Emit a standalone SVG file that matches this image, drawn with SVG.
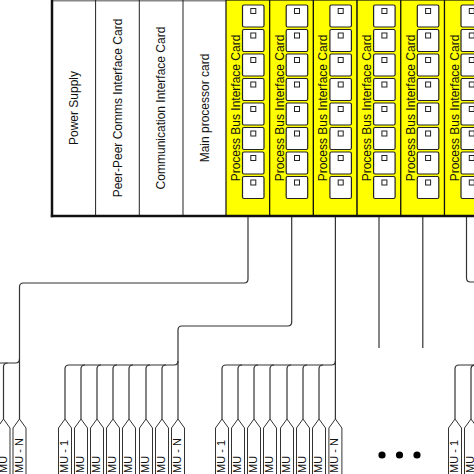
<svg xmlns="http://www.w3.org/2000/svg" width="474" height="474" viewBox="0 0 474 474">
<defs>
<style>
.t{font-family:"Liberation Sans",Arial,sans-serif;fill:#111;}
.rt{font-size:12px;text-anchor:middle;dominant-baseline:central;}
.mu{font-size:11px;}
.card{fill:#ffff00;stroke:#111;stroke-width:1.2;}
.port{fill:#fff;stroke:#222;stroke-width:1.2;}
.pin{fill:#fff;stroke:#222;stroke-width:1;}
.div{stroke:#222;stroke-width:1;}
.c{fill:none;stroke:#333;stroke-width:1.2;}
.tag{fill:#fff;stroke:#333;stroke-width:1;}
</style>
<g id="portset">
<rect class="port" x="16.5" y="5" width="21.5" height="22" rx="1.5"/><rect class="pin" x="24.8" y="8.5" width="5" height="5"/>
<rect class="port" x="16.5" y="29.5" width="21.5" height="22" rx="1.5"/><rect class="pin" x="24.8" y="33" width="5" height="5"/>
<rect class="port" x="16.5" y="54" width="21.5" height="22" rx="1.5"/><rect class="pin" x="24.8" y="57.5" width="5" height="5"/>
<rect class="port" x="16.5" y="78.5" width="21.5" height="22" rx="1.5"/><rect class="pin" x="24.8" y="82" width="5" height="5"/>
<rect class="port" x="16.5" y="103" width="21.5" height="22" rx="1.5"/><rect class="pin" x="24.8" y="106.5" width="5" height="5"/>
<rect class="port" x="16.5" y="127.5" width="21.5" height="22" rx="1.5"/><rect class="pin" x="24.8" y="131" width="5" height="5"/>
<rect class="port" x="16.5" y="152" width="21.5" height="22" rx="1.5"/><rect class="pin" x="24.8" y="155.5" width="5" height="5"/>
<rect class="port" x="16.5" y="176.5" width="21.5" height="22" rx="1.5"/><rect class="pin" x="24.8" y="180" width="5" height="5"/>
</g>
<polygon id="tagshape" class="tag" points="0,419 6.5,428 6.5,480 -6.5,480 -6.5,428"/>
</defs>
<rect width="474" height="474" fill="#fff"/>

<!-- rack -->
<g id="rack">
<line x1="52" y1="0.7" x2="474" y2="0.7" stroke="#888" stroke-width="1.5"/>
<line class="div" x1="95.6" y1="0" x2="95.6" y2="216"/>
<line class="div" x1="139.3" y1="0" x2="139.3" y2="216"/>
<line class="div" x1="183" y1="0" x2="183" y2="216"/>
</g>
<g id="power-supply"><text class="t rt" transform="translate(73.8,108) rotate(-90)">Power Supply</text></g>
<g id="peer-card"><text class="t rt" transform="translate(117.5,108) rotate(-90)">Peer-Peer Comms Interface Card</text></g>
<g id="comm-card"><text class="t rt" transform="translate(161.2,108) rotate(-90)">Communication Interface Card</text></g>
<g id="main-card"><text class="t rt" transform="translate(204.5,108) rotate(-90)">Main processor card</text></g>

<g id="pbic1" transform="translate(226,0)"><rect class="card" x="0" y="0" width="43.7" height="216"/><text class="t rt" transform="translate(10,108) rotate(-90)">Process Bus Interface Card</text><use href="#portset"/></g>
<g id="pbic2" transform="translate(269.7,0)"><rect class="card" x="0" y="0" width="43.7" height="216"/><text class="t rt" transform="translate(10,108) rotate(-90)">Process Bus Interface Card</text><use href="#portset"/></g>
<g id="pbic3" transform="translate(313.4,0)"><rect class="card" x="0" y="0" width="43.7" height="216"/><text class="t rt" transform="translate(10,108) rotate(-90)">Process Bus Interface Card</text><use href="#portset"/></g>
<g id="pbic4" transform="translate(357.1,0)"><rect class="card" x="0" y="0" width="43.7" height="216"/><text class="t rt" transform="translate(10,108) rotate(-90)">Process Bus Interface Card</text><use href="#portset"/></g>
<g id="pbic5" transform="translate(400.8,0)"><rect class="card" x="0" y="0" width="43.7" height="216"/><text class="t rt" transform="translate(10,108) rotate(-90)">Process Bus Interface Card</text><use href="#portset"/></g>
<g id="pbic6" transform="translate(444.5,0)"><rect class="card" x="0" y="0" width="43.7" height="216"/><text class="t rt" transform="translate(10,108) rotate(-90)">Process Bus Interface Card</text><use href="#portset"/></g>

<g id="rack-frame">
<line x1="52" y1="0" x2="52" y2="217.2" stroke="#111" stroke-width="2.5"/>
<line x1="50.8" y1="216" x2="474" y2="216" stroke="#111" stroke-width="2.5"/>
</g>

<!-- connectors -->
<g id="connectors">
<path class="c" d="M248,217 V279 Q248,283 244,283 H23.5 Q19.5,283 19.5,287 V419"/>
<path class="c" d="M19.5,359 Q19.5,363 15.5,363 H-20"/>
<path class="c" d="M7.5,363 Q3.5,363 3.5,367 V419"/>

<path class="c" d="M291.7,217 V322 Q291.7,326 287.7,326 H182 Q178,326 178,330 V419"/>
<path class="c" d="M178,361 Q178,365 174,365 H69 Q65,365 65,369 V419"/>
<path class="c" d="M85,365 Q81,365 81,369 V419 M101,365 Q97,365 97,369 V419 M117,365 Q113,365 113,369 V419 M133,365 Q129,365 129,369 V419 M150,365 Q146,365 146,369 V419 M166,365 Q162,365 162,369 V419"/>

<path class="c" d="M335.4,217 V419"/>
<path class="c" d="M335.4,361 Q335.4,365 331.4,365 H226 Q222,365 222,369 V419"/>
<path class="c" d="M242,365 Q238,365 238,369 V419 M258,365 Q254,365 254,369 V419 M274,365 Q270,365 270,369 V419 M291,365 Q287,365 287,369 V419 M307,365 Q303,365 303,369 V419 M323,365 Q319,365 319,369 V419"/>

<path class="c" d="M379,217 V348"/>
<path class="c" d="M422.8,217 V348"/>

<path class="c" d="M466.5,217 V278 Q466.5,282 470.5,282 H480"/>
<path class="c" d="M480,365 H459 Q455,365 455,369 V419"/>
<path class="c" d="M475,365 Q471,365 471,369 V419"/>
</g>

<!-- merging units -->
<g id="mu-g1-a"><use href="#tagshape" x="3.5"/><text class="t mu" transform="translate(6.5,473) rotate(-90)">MU</text></g>
<g id="mu-g1-n"><use href="#tagshape" x="19.5"/><text class="t mu" transform="translate(22.5,473) rotate(-90)">MU - N</text></g>

<g id="mu-g2-1"><use href="#tagshape" x="65"/><text class="t mu" transform="translate(68,473) rotate(-90)">MU - 1</text></g>
<g id="mu-g2-2"><use href="#tagshape" x="81"/><text class="t mu" transform="translate(84,473) rotate(-90)">MU</text></g>
<g id="mu-g2-3"><use href="#tagshape" x="97"/><text class="t mu" transform="translate(100,473) rotate(-90)">MU</text></g>
<g id="mu-g2-4"><use href="#tagshape" x="113"/><text class="t mu" transform="translate(116,473) rotate(-90)">MU</text></g>
<g id="mu-g2-5"><use href="#tagshape" x="129"/><text class="t mu" transform="translate(132,473) rotate(-90)">MU</text></g>
<g id="mu-g2-6"><use href="#tagshape" x="146"/><text class="t mu" transform="translate(149,473) rotate(-90)">MU</text></g>
<g id="mu-g2-7"><use href="#tagshape" x="162"/><text class="t mu" transform="translate(165,473) rotate(-90)">MU</text></g>
<g id="mu-g2-n"><use href="#tagshape" x="178"/><text class="t mu" transform="translate(181,473) rotate(-90)">MU - N</text></g>

<g id="mu-g3-1"><use href="#tagshape" x="222"/><text class="t mu" transform="translate(225,473) rotate(-90)">MU - 1</text></g>
<g id="mu-g3-2"><use href="#tagshape" x="238"/><text class="t mu" transform="translate(241,473) rotate(-90)">MU</text></g>
<g id="mu-g3-3"><use href="#tagshape" x="254"/><text class="t mu" transform="translate(257,473) rotate(-90)">MU</text></g>
<g id="mu-g3-4"><use href="#tagshape" x="270"/><text class="t mu" transform="translate(273,473) rotate(-90)">MU</text></g>
<g id="mu-g3-5"><use href="#tagshape" x="287"/><text class="t mu" transform="translate(290,473) rotate(-90)">MU</text></g>
<g id="mu-g3-6"><use href="#tagshape" x="303"/><text class="t mu" transform="translate(306,473) rotate(-90)">MU</text></g>
<g id="mu-g3-7"><use href="#tagshape" x="319"/><text class="t mu" transform="translate(322,473) rotate(-90)">MU</text></g>
<g id="mu-g3-n"><use href="#tagshape" x="335.4"/><text class="t mu" transform="translate(338.4,473) rotate(-90)">MU - N</text></g>

<g id="mu-g4-1"><use href="#tagshape" x="455"/><text class="t mu" transform="translate(458,473) rotate(-90)">MU - 1</text></g>
<g id="mu-g4-2"><use href="#tagshape" x="471"/><text class="t mu" transform="translate(474,473) rotate(-90)">MU</text></g>

<g id="ellipsis">
<circle cx="382" cy="455" r="3.6" fill="#000"/>
<circle cx="399.5" cy="455" r="3.6" fill="#000"/>
<circle cx="417" cy="455" r="3.6" fill="#000"/>
</g>
</svg>
